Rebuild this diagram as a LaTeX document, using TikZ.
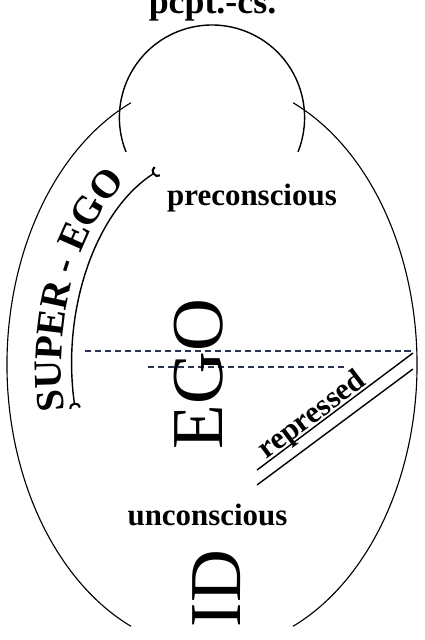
\documentclass[tikz,border=0pt]{standalone}
\usepackage{fontspec}
\setmainfont{Liberation Serif}
\usetikzlibrary{arrows.meta, decorations.text}
\definecolor{slate}{HTML}{2A3352}

\begin{document}
\begin{tikzpicture}[
    x=0.025cm, y=0.025cm,
    border/.style={line width=0.8pt},
    rim/.style={line width=1pt},
    tag/.style={font=\bfseries\fontsize{22}{26}\selectfont, anchor=base, inner sep=0pt},
    big/.style={font=\fontsize{52}{60}\selectfont, rotate=90, anchor=base, inner sep=0pt},
    level/.style={draw=slate, line width=0.75pt, dash pattern=on 4.3pt off 2.8pt},
    fork/.style={{Arc Barb[reversed, length=1.4mm, width=3mm, line width=1.5pt]}-{Arc Barb[reversed, length=1.4mm, width=3mm, line width=1.5pt]}, line width=1pt}
]

% Frame
\useasboundingbox (0,0) rectangle (425,-640);

% Centres
\coordinate (mind) at (212,-364.5);
\coordinate (eye) at (212,-117.6);

% Outer oval
\draw[border] ([shift={(66.7:205 and 285)}]mind) arc[start angle=66.7, end angle=-66.7, x radius=205, y radius=285];
\draw[border] ([shift={(113.3:205 and 285)}]mind) arc[start angle=113.3, end angle=246.7, x radius=205, y radius=285];

% Perception cap
\draw[rim] ([shift={(201.8:92.6)}]eye) arc[start angle=201.8, end angle=-21.8, radius=92.6];

% Super-ego band
\draw[fork] ([shift={(113:140 and 210)}]mind) arc[start angle=113, end angle=192, x radius=140, y radius=210];
\path[decorate, decoration={text along path, text align=center, raise=-4.5pt,
    text={|\bfseries\fontsize{28}{32}\selectfont|SUPER - EGO}}]
    ([shift={(192:157 and 230)}]mind) arc[start angle=192, end angle=125, x radius=157, y radius=230];

% Levels
\coordinate (hi west) at (85,-351);
\coordinate (hi east) at (413,-351);
\coordinate (lo west) at (148,-367);
\coordinate (lo east) at (347,-367);
\draw[level] (hi west) -- (hi east);
\draw[level] (lo west) -- (lo east);

% Repression bar
\coordinate (bar top a) at (257,-470);
\coordinate (bar top b) at (413,-353);
\coordinate (bar low a) at (257,-485);
\coordinate (bar low b) at (413,-369);
\draw[rim] (bar top a) -- (bar top b);
\draw[rim] (bar low a) -- (bar low b);

% Labels
\node[tag, font=\bfseries\fontsize{25.5}{30}\selectfont] (pcpt) at (212.5,-13.5) {pcpt.-cs.};
\node[tag] (pcs) at (252,-205) {preconscious};
\node[tag] (ucs) at (207.5,-525) {unconscious};
\node[tag, rotate=36.87] (rep) at (317,-422) {repressed};
\node[big] (ego) at (222,-374) {EGO};
\node[big] (id) at (240,-588.5) {ID};

\end{tikzpicture}
\end{document}
